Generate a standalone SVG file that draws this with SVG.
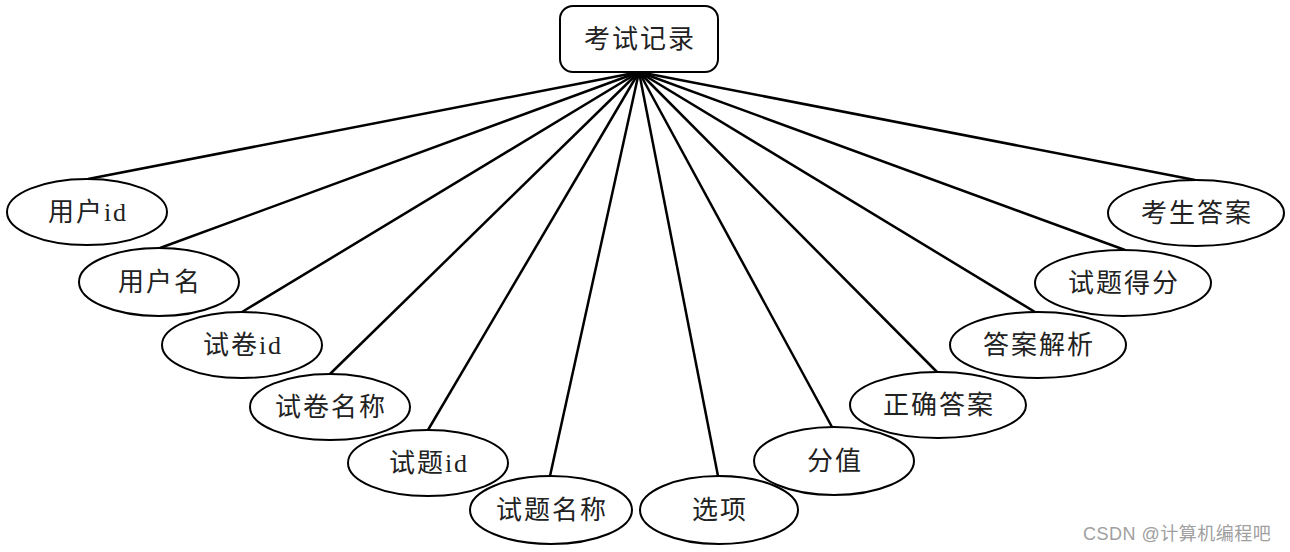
<svg xmlns="http://www.w3.org/2000/svg" width="1290" height="552" viewBox="0 0 1290 552">
<style>
.n ellipse{fill:#fff;stroke:#000;stroke-width:2}
.n rect{fill:#fff;stroke:#000;stroke-width:2}
.t{font-family:"Liberation Serif","Noto Sans CJK SC",serif;font-size:26px;letter-spacing:2px;fill:#222;text-anchor:middle;dominant-baseline:central}
#edges line{stroke:#000;stroke-width:2.5}
.wm{font-family:"Liberation Sans","Noto Sans CJK SC",sans-serif;font-size:18px;letter-spacing:0.5px;fill:#a0a0a0}
</style>
<rect width="1290" height="552" fill="#fff"/>
<g id="edges">
<line x1="639" y1="72" x2="88" y2="179"/>
<line x1="639" y1="72" x2="160" y2="248"/>
<line x1="639" y1="72" x2="242" y2="312"/>
<line x1="639" y1="72" x2="330" y2="374"/>
<line x1="639" y1="72" x2="428" y2="430"/>
<line x1="639" y1="72" x2="550" y2="476"/>
<line x1="639" y1="72" x2="718" y2="476"/>
<line x1="639" y1="72" x2="832" y2="427"/>
<line x1="639" y1="72" x2="937" y2="372"/>
<line x1="639" y1="72" x2="1035" y2="312"/>
<line x1="639" y1="72" x2="1125" y2="250"/>
<line x1="639" y1="72" x2="1195" y2="180"/>
</g>
<g id="root" class="n"><rect x="560" y="6" width="158" height="66" rx="13"/><text class="t" x="640" y="39">考试记录</text></g>
<g id="n1" class="n"><ellipse cx="87" cy="212" rx="80" ry="33"/><text class="t" x="88" y="212">用户id</text></g>
<g id="n2" class="n"><ellipse cx="159" cy="282" rx="80" ry="34"/><text class="t" x="160" y="282">用户名</text></g>
<g id="n3" class="n"><ellipse cx="242" cy="345" rx="80" ry="33"/><text class="t" x="243" y="345">试卷id</text></g>
<g id="n4" class="n"><ellipse cx="330" cy="407" rx="80" ry="33"/><text class="t" x="331" y="407">试卷名称</text></g>
<g id="n5" class="n"><ellipse cx="428" cy="463" rx="80" ry="33"/><text class="t" x="429" y="463">试题id</text></g>
<g id="n6" class="n"><ellipse cx="551" cy="510" rx="81" ry="34"/><text class="t" x="552" y="510">试题名称</text></g>
<g id="n7" class="n"><ellipse cx="719" cy="510" rx="79" ry="34"/><text class="t" x="720" y="510">选项</text></g>
<g id="n8" class="n"><ellipse cx="834" cy="461" rx="80" ry="34"/><text class="t" x="835" y="461">分值</text></g>
<g id="n9" class="n"><ellipse cx="938" cy="405" rx="88" ry="33"/><text class="t" x="939" y="405">正确答案</text></g>
<g id="n10" class="n"><ellipse cx="1038" cy="345" rx="88" ry="33"/><text class="t" x="1039" y="345">答案解析</text></g>
<g id="n11" class="n"><ellipse cx="1123" cy="283" rx="88" ry="33"/><text class="t" x="1124" y="283">试题得分</text></g>
<g id="n12" class="n"><ellipse cx="1196" cy="213" rx="88" ry="33"/><text class="t" x="1197" y="213">考生答案</text></g>
<text class="wm" x="1083" y="540">CSDN @计算机编程吧</text>
</svg>
